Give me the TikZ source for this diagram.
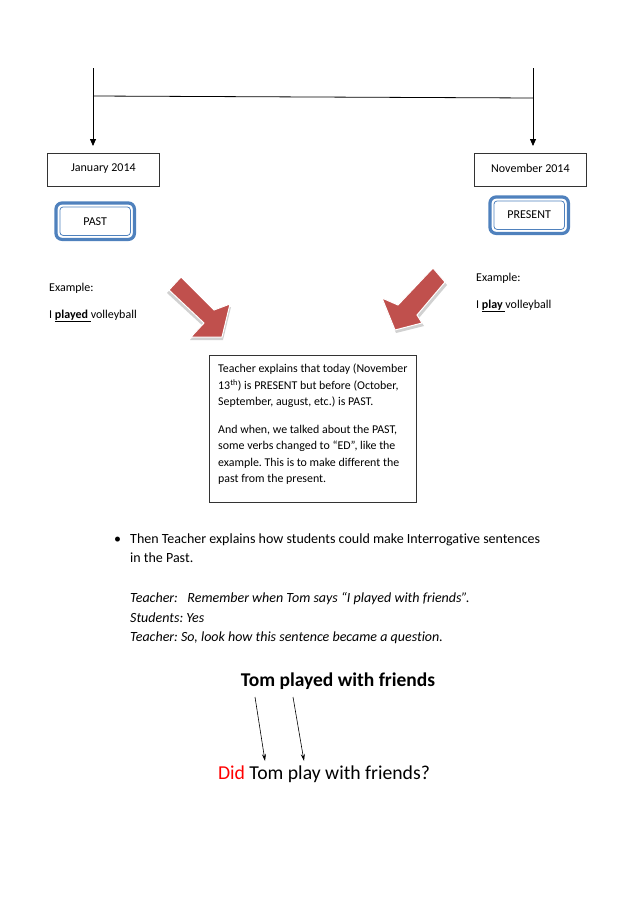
\documentclass[tikz,border=0pt]{standalone}
\usepackage{fontspec}
\setmainfont[Ligatures=NoCommon]{Carlito}
\usetikzlibrary{arrows.meta}
\definecolor{arrowred}{HTML}{C0504D}
\definecolor{boxblue}{HTML}{4F81BD}
\definecolor{didred}{HTML}{FF0000}
\frenchspacing
\begin{document}
\begin{tikzpicture}[x=1pt,y=-1pt,
  datebox/.style={draw=black!80, line width=0.8pt, minimum width=112pt, minimum height=33pt, anchor=north west, inner sep=0pt, font=\fontsize{12}{14}\selectfont},
  tagbox/.style={minimum width=78pt, minimum height=36pt, anchor=north west, inner sep=0pt, font=\fontsize{12}{14}\selectfont},
  plain/.style={anchor=base west, inner sep=0pt, font=\fontsize{12}{14}\selectfont},
  body/.style={anchor=base west, inner sep=0pt, font=\fontsize{14}{17}\selectfont},
  tipline/.style={line width=0.8pt, -{Triangle[length=7pt,width=6pt]}},
  thinarrow/.style={line width=0.6pt, -{Stealth[length=7pt,width=4pt]}},
  redarrow/.style={fill=arrowred, draw=white, line width=1pt},
  shadowarrow/.style={fill=black!18}
]
\useasboundingbox (0,0) rectangle (638,902);

% timeline
\coordinate (tl) at (93,68);
\coordinate (tr) at (533,68);
\coordinate (hl) at (93,96);
\coordinate (hr) at (533,98);
\coordinate (al) at (93,146);
\coordinate (ar) at (533,146);
\draw[line width=0.8pt] (hl) -- (hr);
\draw[tipline] (tl) -- (al);
\draw[tipline] (tr) -- (ar);

\node[datebox] (jan) at (47,153) {\raisebox{4pt}{January 2014}};
\node[datebox] (nov) at (474,153) {\raisebox{4pt}{November 2014}};

% PAST / PRESENT boxes
\node[tagbox] (past) at (56,203) {PAST};
\draw[boxblue, line width=3.2pt, rounded corners=6pt] (past.north west) rectangle (past.south east);
\draw[boxblue, line width=0.8pt, rounded corners=3pt] ([xshift=4pt,yshift=-4pt]past.north west) rectangle ([xshift=-4pt,yshift=4pt]past.south east);
\node[tagbox] (pres) at (490,197) {\raisebox{2pt}{PRESENT}};
\draw[boxblue, line width=3.2pt, rounded corners=6pt] (pres.north west) rectangle (pres.south east);
\draw[boxblue, line width=0.8pt, rounded corners=3pt] ([xshift=4pt,yshift=-4pt]pres.north west) rectangle ([xshift=-4pt,yshift=4pt]pres.south east);

% examples
\node[plain] (exl) at (49,291) {Example:};
\node[plain] (pl) at (49,318) {I \underline{\textbf{played}\ }volleyball};
\node[plain] (exr) at (476,281) {Example:};
\node[plain] (pr) at (476,308) {I \underline{\textbf{play}\ }volleyball};

% red arrows
\fill[shadowarrow] (167,293) -- (179,280) -- (213,313) -- (231,307) -- (223,340) -- (190,340) -- (203,326) -- cycle;
\draw[redarrow] (169,290) -- (181,277) -- (214,310) -- (230,304) -- (222,337) -- (191,337) -- (204,323) -- cycle;
\fill[shadowarrow] (447,285) -- (435,271) -- (400,308) -- (383,301) -- (396,333) -- (424,326) -- (419,318) -- cycle;
\draw[redarrow] (445,282) -- (433,268) -- (398,305) -- (382,298) -- (395,330) -- (422,323) -- (417,315) -- cycle;

% explanation box
\node[draw=black!80, line width=0.8pt, anchor=north west, minimum width=207pt, minimum height=147pt, inner sep=0pt] (expl) at (209,355) {};
\node[anchor=north west, inner sep=0pt, align=left, font=\fontsize{11.9}{16.5}\selectfont] (expltext) at ([xshift=9pt,yshift=-9pt]expl.north west)
{Teacher explains that today (November\\
13\textsuperscript{th}) is PRESENT but before (October,\\
September, august, etc.) is PAST.\\[11pt]
And when, we talked about the PAST,\\
some verbs changed to “ED”, like the\\
example. This is to make different the\\
past from the present.};

% bullet text
\node[body] (bul) at (114,543) {•};
\node[body] (b1) at (130,543) {Then Teacher explains how students could make Interrogative sentences};
\node[body] (b2) at (130,562) {in the Past.};
\node[body] (d1) at (130,602) {\itshape Teacher:\ \ \ Remember when Tom says “I played with friends”.};
\node[body] (d2) at (130,622) {\itshape Students: Yes};
\node[body] (d3) at (130,641) {\itshape Teacher: So, look how this sentence became a question.};

% sentences
\node[anchor=base, inner sep=0pt, font=\fontsize{19.5}{22}\selectfont\bfseries] (s1) at (338,686) {Tom played with friends};
\node[anchor=base, inner sep=0pt, font=\fontsize{19.7}{22}\selectfont] (s2) at (324,779) {\textcolor{didred}{Did} Tom play with friends?};
\coordinate (a1s) at (255,697);
\coordinate (a1e) at (265,761);
\coordinate (a2s) at (293,697);
\coordinate (a2e) at (304,761);
\draw[thinarrow] (a1s) -- (a1e);
\draw[thinarrow] (a2s) -- (a2e);
\end{tikzpicture}
\end{document}
